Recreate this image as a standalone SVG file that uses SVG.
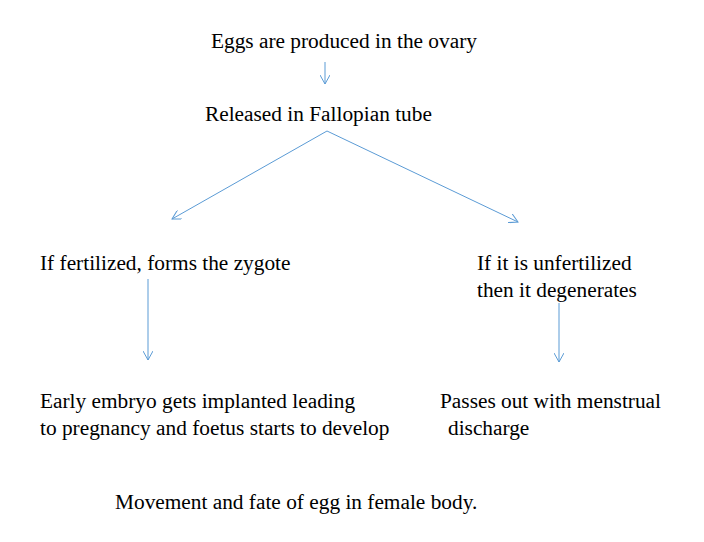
<svg xmlns="http://www.w3.org/2000/svg" width="704" height="542" viewBox="0 0 704 542">
<style>
text{font-family:"Liberation Serif","Times New Roman",serif;font-size:21.33px;fill:#000}
.c line{stroke:#5B9BD5;stroke-width:1}
</style>
<defs>
<marker id="a" viewBox="0 0 10 10" refX="9" refY="5" markerWidth="10" markerHeight="10" markerUnits="userSpaceOnUse" orient="auto">
<path d="M0,0 L9,5 L0,10" fill="none" stroke="#5B9BD5" stroke-width="1"/>
</marker>
</defs>
<rect width="704" height="542" fill="#fff"/>
<g class="c" id="connectors">
<line x1="325" y1="62" x2="325" y2="84" marker-end="url(#a)"/>
<line x1="327" y1="131" x2="172" y2="219" marker-end="url(#a)"/>
<line x1="327" y1="131" x2="518" y2="222" marker-end="url(#a)"/>
<line x1="148" y1="279" x2="148" y2="360" marker-end="url(#a)"/>
<line x1="559" y1="303" x2="559" y2="362" marker-end="url(#a)"/>
</g>
<g id="n1"><text x="211" y="48">Eggs are produced in the ovary</text></g>
<g id="n2"><text x="205" y="121">Released in Fallopian tube</text></g>
<g id="n3"><text x="40" y="270">If fertilized, forms the zygote</text></g>
<g id="n4"><text x="477" y="270">If it is unfertilized</text><text x="477" y="297">then it degenerates</text></g>
<g id="n5"><text x="40" y="408">Early embryo gets implanted leading</text><text x="40" y="435">to pregnancy and foetus starts to develop</text></g>
<g id="n6"><text x="440" y="408">Passes out with menstrual</text><text x="448" y="435">discharge</text></g>
<g id="caption"><text x="115" y="509">Movement and fate of egg in female body.</text></g>
</svg>
